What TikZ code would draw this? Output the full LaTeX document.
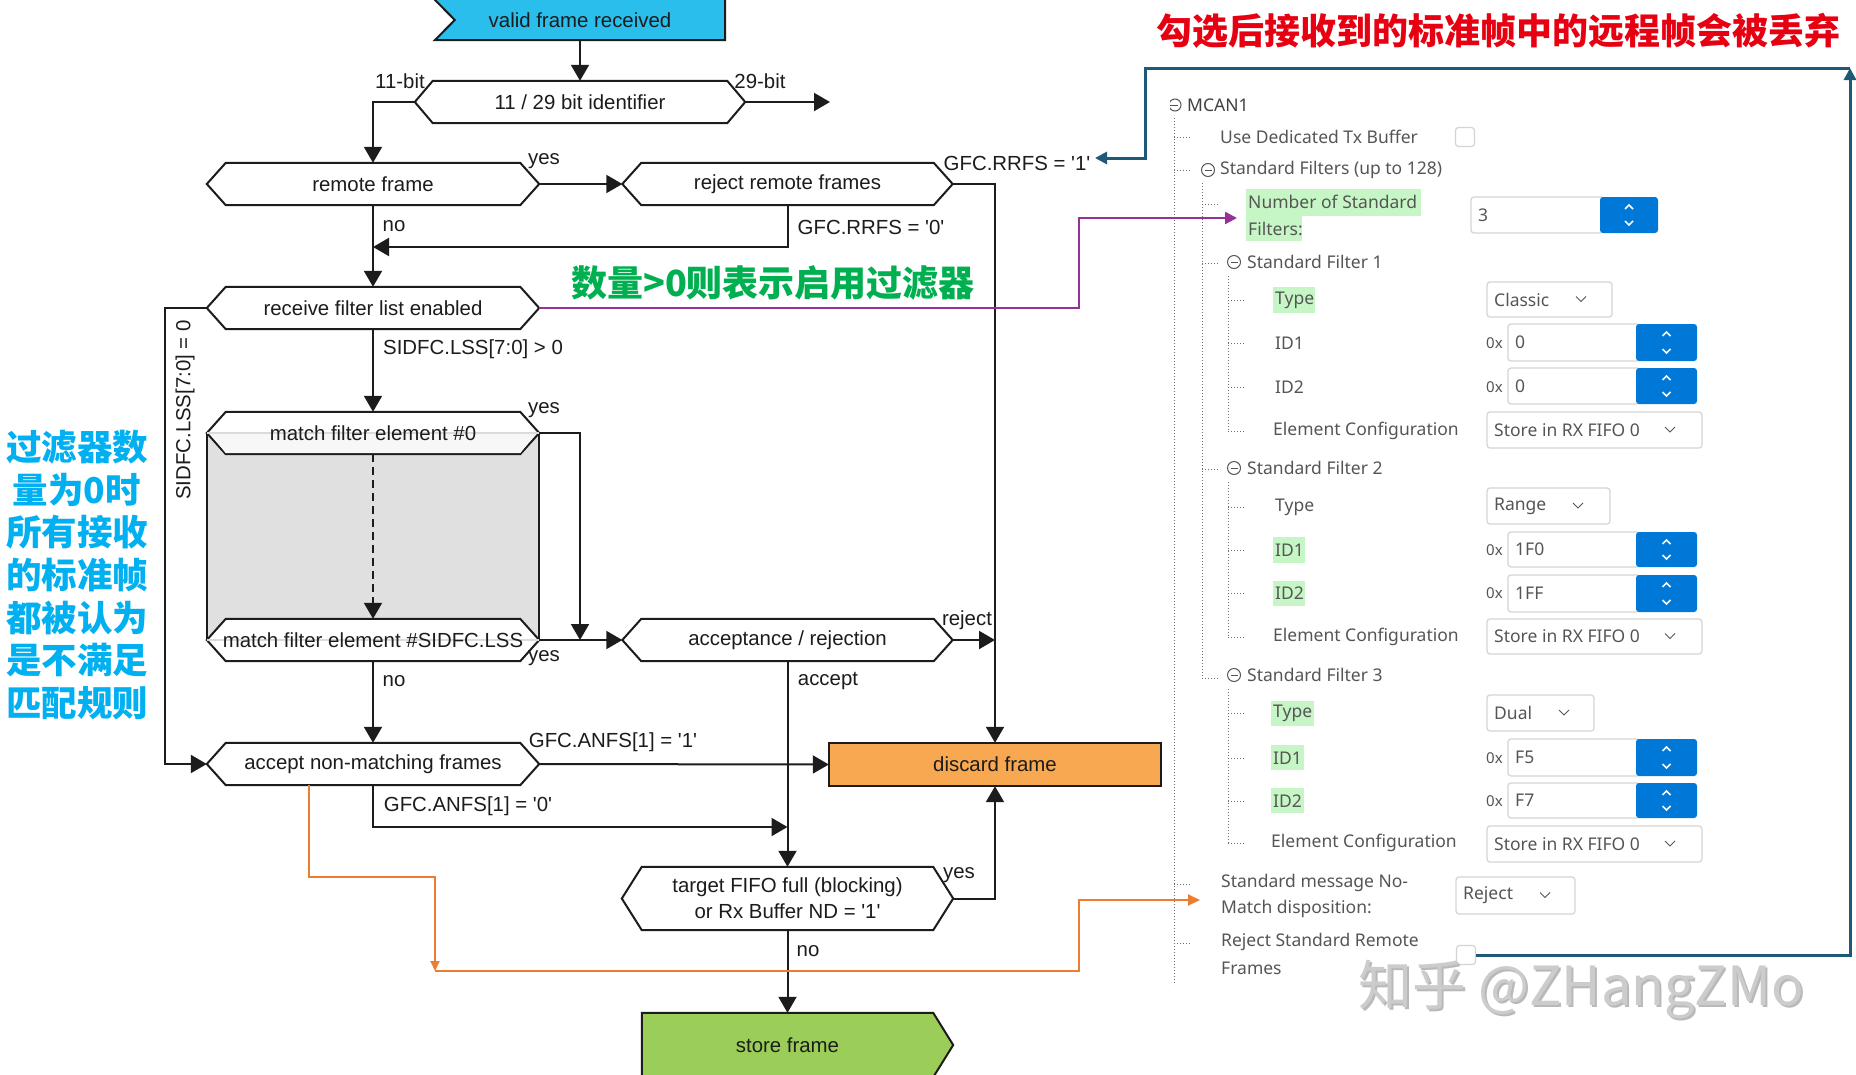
\documentclass[tikz,border=0pt]{standalone}
\usepackage{fontspec}
\usetikzlibrary{arrows.meta,calc}
\newfontfamily\fcfont{Liberation Sans}
\newfontfamily\uifont{Noto Sans}
\newfontfamily\cjk{Noto Sans CJK SC}
\definecolor{vfblue}{RGB}{42,190,236}
\definecolor{dforange}{RGB}{248,168,80}
\definecolor{sfgreen}{RGB}{155,206,88}
\definecolor{boxgray}{RGB}{224,224,224}
\definecolor{cnred}{RGB}{230,0,18}
\definecolor{cngreen}{RGB}{0,176,80}
\definecolor{cncyan}{RGB}{0,176,240}
\definecolor{purp}{RGB}{150,50,150}
\definecolor{orng}{RGB}{237,125,49}
\definecolor{tealln}{RGB}{30,90,120}
\definecolor{uigray}{RGB}{85,85,85}
\definecolor{hl}{RGB}{198,246,198}
\definecolor{spin}{RGB}{0,120,215}
\definecolor{bord}{RGB}{212,212,212}
\definecolor{treeg}{RGB}{110,110,110}
\definecolor{wm}{RGB}{182,182,182}
\definecolor{ink}{RGB}{28,28,28}
\pgfdeclarelayer{back}
\pgfdeclarelayer{bg}
\pgfsetlayers{back,bg,main}
\newcommand\hexa[2]{%
  \filldraw[fill=white,draw=ink,line width=2pt] (#1.west) -- ([xshift=#2pt]#1.north west) -- ([xshift=-#2pt]#1.north east) -- (#1.east) -- ([xshift=-#2pt]#1.south east) -- ([xshift=#2pt]#1.south west) -- cycle;}
\newcommand\ddown[7]{%
  \draw[uibox] (#2,#3) rectangle (#4,#5);
  \node[uif] (#1) at ({#2+7},{(#3+#5)/2}) {#6};
  \draw[chev] ({#7-5},{(#3+#5)/2-3}) -- ({#7},{(#3+#5)/2+2}) -- ({#7+5},{(#3+#5)/2-3});}
\newcommand\numbox[7]{%
  \draw[uibox] (#2,#3) rectangle ({#4+4},#6);
  \fill[spin, rounded corners=3pt] (#4,#3) rectangle (#5,#6);
  \node[uif] (#1) at ({#2+7},{(#3+#6)/2}) {#7};
  \draw[wchev] ({(#4+#5)/2-4},{#3+12}) -- ({(#4+#5)/2},{#3+8}) -- ({(#4+#5)/2+4},{#3+12});
  \draw[wchev] ({(#4+#5)/2-4},{#6-12}) -- ({(#4+#5)/2},{#6-8}) -- ({(#4+#5)/2+4},{#6-12});}
\newcommand\collapse[2]{%
  \draw[uigray, line width=1pt] (#1,#2) circle (6.5pt);
  \draw[uigray, line width=1pt] ({#1-3.5},#2) -- ({#1+3.5},#2);}
\tikzset{
  fc/.style={font=\fcfont\fontsize{20.4pt}{26pt}\selectfont, text=ink},
  hx/.style={fc, minimum height=42pt, inner sep=0pt, align=center},
  lbl/.style={fc, inner sep=0pt},
  arr/.style={line width=2pt, draw=ink, -{Triangle[length=16pt,width=18pt]}},
  ln/.style={line width=2pt, draw=ink},
  uif/.style={font=\uifont\fontsize{17.5pt}{21pt}\selectfont, text=uigray, anchor=west, inner sep=0pt},
  uismall/.style={font=\uifont\fontsize{15pt}{18pt}\selectfont, text=uigray, anchor=west, inner sep=0pt},
  uibox/.style={draw=bord, line width=1.2pt, rounded corners=3pt, fill=white},
  chev/.style={draw=uigray, line width=1pt},
  wchev/.style={draw=white, line width=1.6pt},
  tree/.style={draw=treeg, line width=1pt, dotted},
  cnb/.style={font=\cjk\bfseries\fontsize{36pt}{42.6pt}\selectfont, inner sep=0pt, align=center},
}
\begin{document}
\begin{tikzpicture}[x=1pt,y=-1pt]
\useasboundingbox (0,0) rectangle (1856,1074);
\begin{pgfonlayer}{back}
  \fill[white] (0,0) rectangle (1856,1074);
  \fill[boxgray] (207,433) rectangle (539,640);
  \draw[ln] (207,433) -- (207,640) (539,433) -- (539,640);
\end{pgfonlayer}

% ---------------- flowchart nodes
\node[hx, minimum width=290pt, minimum height=40pt] (vfr) at (580,20) {valid frame received};
\node[hx, minimum width=330pt] (id) at (580,102) {11 / 29 bit identifier};
\node[hx, minimum width=332pt] (rf) at (373,184) {remote frame};
\node[hx, minimum width=330pt] (rrf) at (787.5,184) {reject remote frames};
\node[hx, minimum width=332pt] (rfl) at (373,308) {receive filter list enabled};
\node[hx, minimum width=332pt] (m0) at (373,433) {match filter element \#0};
\node[hx, minimum width=332pt] (mn) at (373,640) {match filter element \#SIDFC.LSS};
\node[hx, minimum width=330pt] (ar) at (787.5,640) {acceptance / rejection};
\node[hx, minimum width=332pt] (anm) at (373,764) {accept non-matching frames};
\node[hx, minimum width=332pt, minimum height=43pt] (df) at (995,764.5) {discard frame};
\node[hx, minimum width=331pt, minimum height=63pt] (tf) at (787.5,898.5) {target FIFO full (blocking)\\or Rx Buffer ND = '1'};
\node[hx, minimum width=291pt, minimum height=64pt] (sf) at (787.5,1045) {store frame};

\begin{pgfonlayer}{bg}
  \filldraw[fill=vfblue, draw=ink, line width=2pt] (435,-10) -- (725,-10) -- (vfr.south east) -- (vfr.south west) -- ([xshift=20pt]vfr.west) -- (vfr.north west) -- cycle;
  \hexa{id}{18}
  \hexa{rf}{19}
  \hexa{rrf}{19}
  \hexa{rfl}{19}
  \hexa{m0}{19}
  \hexa{mn}{19}
  \hexa{ar}{19}
  \hexa{anm}{19}
  \hexa{tf}{20}
  \fill[gray!6] ([xshift=3pt]m0.west) -- ([xshift=-3pt]m0.east) -- ([xshift=-19pt,yshift=1pt]m0.south east) -- ([xshift=19pt,yshift=1pt]m0.south west) -- cycle;
  \draw[gray!28, line width=1.5pt] (m0.west) -- (m0.east);
  \draw[gray!28, line width=1.5pt] (mn.west) -- (mn.east);
  \filldraw[fill=dforange, draw=ink, line width=2pt] (df.north west) rectangle (df.south east);
  \filldraw[fill=sfgreen, draw=ink, line width=2pt] (sf.north west) -- (sf.north east) -- ([xshift=20pt]sf.east) -- (sf.south east) -- (sf.south west) -- cycle;
\end{pgfonlayer}

% ---------------- labels
\node[lbl] (l11) at (400,81) {11-bit};
\node[lbl] (l29) at (760,81) {29-bit};
\node[lbl] (lyes1) at (544,161) {yes};
\node[lbl] (lrr1) at (1017,163) {GFC.RRFS = '1'};
\node[lbl] (lno1) at (394,226) {no};
\node[lbl] (lrr0) at (871,227) {GFC.RRFS = '0'};
\node[lbl] (llss) at (473,349) {SIDFC.LSS[7:0] > 0};
\node[lbl, rotate=90] (llsz) at (185,410) {SIDFC.LSS[7:0] = 0};
\node[lbl] (lyes2) at (544,410) {yes};
\node[lbl] (lyes3) at (544,658) {yes};
\node[lbl] (lrej) at (967,620) {reject};
\node[lbl] (lno2) at (394,681) {no};
\node[lbl] (lacc) at (828,681) {accept};
\node[lbl] (lan1) at (613,742) {GFC.ANFS[1] = '1'};
\node[lbl] (lan0) at (468,806) {GFC.ANFS[1] = '0'};
\node[lbl] (lyes4) at (959,875) {yes};
\node[lbl] (lno3) at (808,951) {no};

% ---------------- connectors
\coordinate (e29) at (830,102);
\coordinate (dcol) at (995,184);
\coordinate (j1) at (373,247);
\coordinate (j2) at (580,640);
\coordinate (j3) at (995,640);
\coordinate (j4) at (787.5,827);
\draw[arr] (vfr.south) -- (id.north);
\draw[arr] (id.west) -| (rf.north);
\draw[arr] (id.east) -- (e29);
\draw[arr] (rf.east) -- (rrf.west);
\draw[arr] (rrf.east) -- (dcol) -- (df.north);
\draw[arr] (rrf.south) |- (j1);
\draw[arr] (rf.south) -- (rfl.north);
\draw[arr] (rfl.south) -- (m0.north);
\draw[arr] (rfl.west) -- ++(-42,0) |- (anm.west);
\draw[arr, dash pattern=on 8pt off 5pt] (m0.south) -- (mn.north);
\draw[arr] (m0.east) -| (j2);
\draw[arr] (mn.east) -- (ar.west);
\draw[arr] (ar.east) -- (j3);
\draw[arr] (ar.south) -- (tf.north);
\draw[arr] (mn.south) -- (anm.north);
\draw[arr] (anm.east) -- (df.west);
\draw[arr] (anm.south) |- (j4);
\draw[arr] (tf.east) -| (df.south);
\draw[arr] (tf.south) -- (sf.north);

% ---------------- Chinese notes
\node[cnb, text=cnred] (redt) at (1498,31) {勾选后接收到的标准帧中的远程帧会被丢弃};
\node[cnb, text=cngreen] (grnt) at (773,283) {数量>0则表示启用过滤器};
\node[cnb, text=cncyan, font=\cjk\bfseries\fontsize{35.5pt}{42.6pt}\selectfont] (cyt) at (77,575) {过滤器数\\量为0时\\所有接收\\的标准帧\\都被认为\\是不满足\\匹配规则};

% ---------------- settings panel
\fill[hl] (1246,189) rectangle (1421,216);
\fill[hl] (1246,216) rectangle (1302,241);
\fill[hl] (1273,287) rectangle (1315,313);
\fill[hl] (1273,537) rectangle (1305,563);
\fill[hl] (1273,581) rectangle (1305,606);
\fill[hl] (1271,701) rectangle (1314,726);
\fill[hl] (1271,745) rectangle (1304,770);
\fill[hl] (1271,788) rectangle (1304,813);

\draw[tree] (1174,118) -- (1174,985);
\foreach \yy in {137,170,884,943} \draw[tree] (1174,\yy) -- (1192,\yy);
\draw[tree] (1202,183) -- (1202,678);
\foreach \yy in {204,263,469,678} \draw[tree] (1202,\yy) -- (1219,\yy);
\draw[tree] (1228,276) -- (1228,431);
\draw[tree] (1228,482) -- (1228,637);
\draw[tree] (1228,689) -- (1228,843);
\foreach \yy in {300,343,387,431,507,550,593,637,713,758,801,843} \draw[tree] (1228,\yy) -- (1245,\yy);

\begin{scope}
  \clip (1170,90) rectangle (1185,120);
  \draw[uigray, line width=1pt] (1175,105) circle (6pt);
  \draw[uigray, line width=1pt] (1170,105) -- (1178,105);
\end{scope}
\collapse{1208}{170}
\collapse{1234}{262}
\collapse{1234}{468}
\collapse{1234}{675}

\node[uif, text=black!75] (t0) at (1187,105) {MCAN1};
\node[uif] (t1) at (1220,137) {Use Dedicated Tx Buffer};
\node[uif] (t2) at (1220,170) {Standard Filters (up to 128)};
\node[uif] (t3) at (1248,202) {Number of Standard};
\node[uif] (t3b) at (1248,229) {Filters:};
\node[uif] (t4) at (1247,262) {Standard Filter 1};
\node[uif] (t5) at (1275,300) {Type};
\node[uif] (t6) at (1275,343) {ID1};
\node[uif] (t7) at (1275,387) {ID2};
\node[uif] (t8) at (1273,431) {Element Configuration};
\node[uif] (t9) at (1247,468) {Standard Filter 2};
\node[uif] (t10) at (1275,507) {Type};
\node[uif] (t11) at (1275,550) {ID1};
\node[uif] (t12) at (1275,593) {ID2};
\node[uif] (t13) at (1273,637) {Element Configuration};
\node[uif] (t14) at (1247,675) {Standard Filter 3};
\node[uif] (t15) at (1273,713) {Type};
\node[uif] (t16) at (1273,758) {ID1};
\node[uif] (t17) at (1273,801) {ID2};
\node[uif] (t18) at (1271,843) {Element Configuration};
\node[uif] (t19) at (1221,883) {Standard message No-};
\node[uif] (t20) at (1221,909) {Match disposition:};
\node[uif] (t21) at (1221,942) {Reject Standard Remote};
\node[uif] (t22) at (1221,968) {Frames};

\node[draw=bord, line width=1.2pt, rounded corners=3pt, minimum size=19pt, inner sep=0pt, fill=white] (cbtx) at (1465,137) {};
\node[draw=bord, line width=1.2pt, rounded corners=3pt, minimum size=19pt, inner sep=0pt, fill=white] (cbrr) at (1466,955) {};

\numbox{nsv}{1471}{197}{1600}{1658}{233}{3}
\numbox{f1a}{1508}{324}{1636}{1697}{361}{0}
\numbox{f1b}{1508}{368}{1636}{1697}{404}{0}
\numbox{f2a}{1508}{532}{1636}{1697}{567}{1F0}
\numbox{f2b}{1508}{575}{1636}{1697}{612}{1FF}
\numbox{f3a}{1508}{739}{1636}{1697}{776}{F5}
\numbox{f3b}{1508}{783}{1636}{1697}{818}{F7}
\foreach \yy/\nm in {343/x1,387/x2,550/x3,593/x4,758/x5,801/x6} \node[uismall] (0\nm) at (1486,\yy) {0x};

\ddown{dc1}{1487}{282}{1612}{317}{Classic}{1581}
\ddown{dst1}{1487}{412}{1702}{448}{Store in RX FIFO 0}{1670}
\ddown{dc2}{1487}{488}{1610}{524}{Range}{1578}
\ddown{dst2}{1487}{619}{1702}{654}{Store in RX FIFO 0}{1670}
\ddown{dc3}{1487}{695}{1594}{731}{Dual}{1564}
\ddown{dst3}{1487}{826}{1702}{862}{Store in RX FIFO 0}{1670}
\ddown{drej}{1456}{877}{1575}{914}{Reject}{1545}

\node[font=\cjk\fontsize{54pt}{60pt}\selectfont, text=gray!55, inner sep=0pt] (wmks) at (1583,992) {知乎 @ZHangZMo};
\node[font=\cjk\fontsize{54pt}{60pt}\selectfont, text=wm!70, inner sep=0pt] (wmk) at (1581,990) {知乎 @ZHangZMo};

% ---------------- coloured annotation connectors
\coordinate (o2) at (435,971);
\coordinate (nomatch) at (1200,900);
\coordinate (nsf) at (1237,218);
\coordinate (tc) at (1850,68);
\coordinate (gfc1) at (1095,158);
\draw[orng, line width=2pt, -{Triangle[length=10pt,width=9pt]}] ([xshift=-64pt]anm.south) |- (435,877) -- (o2);
\draw[orng, line width=2pt, -{Triangle[length=12pt,width=11pt]}] (o2) -- (1079,971) -- (1079,900) -- (nomatch);
\draw[purp, line width=2.5pt, -{Triangle[length=12pt,width=12pt]}] (rfl.east) -- (1079,308) -- (1079,218) -- (nsf);
\draw[tealln, line width=3pt, -{Triangle[length=12pt,width=12pt]}] (cbrr.east) -- (1850,955) -- (tc);
\draw[tealln, line width=3pt, -{Triangle[length=12pt,width=12pt]}] (tc) -- (1145,68) -- (1145,158) -- (gfc1);
\end{tikzpicture}
\end{document}
